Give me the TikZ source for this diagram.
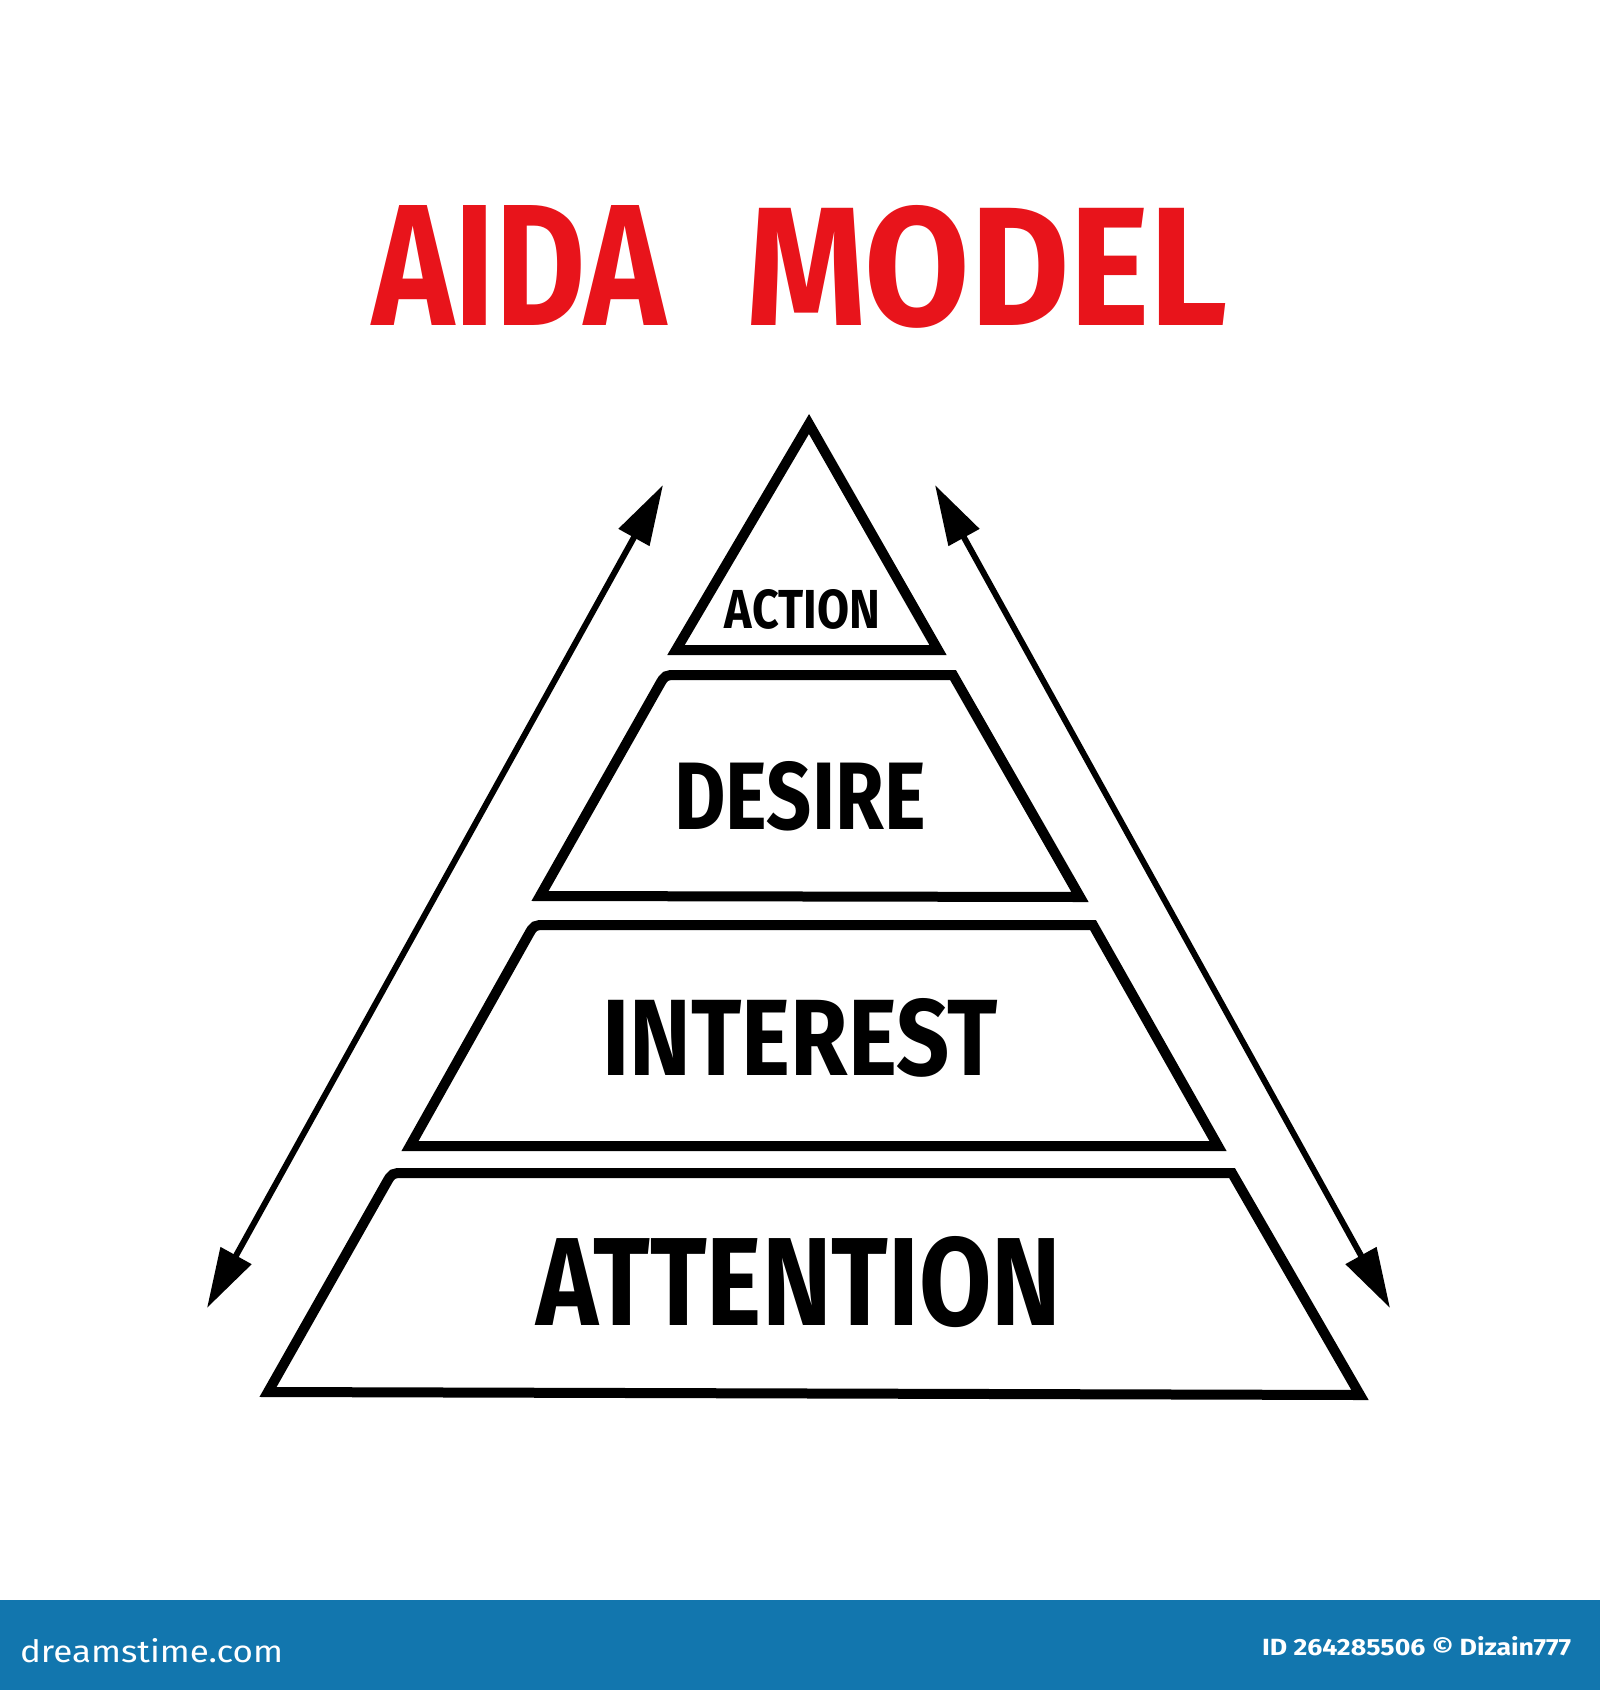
\documentclass[tikz,border=0pt]{standalone}
\usepackage{fontspec}
\setmainfont{Fira Sans}
\usepackage{graphicx}
\usetikzlibrary{arrows.meta,calc}
\definecolor{titlered}{HTML}{E8141B}
\definecolor{bannerblue}{HTML}{1276AE}
\tikzset{
  layer/.style={draw=black, line width=10pt, line join=miter, fill=white},
  lbl/.style={inner sep=0pt, outer sep=0pt, text=black, font=\bfseries},
  sidearrow/.style={line width=6pt, {Triangle[length=60pt,width=34pt]}-{Triangle[length=60pt,width=34pt]}},
  wmtext/.style={inner sep=0pt, outer sep=0pt, text=white, anchor=base west},
}
\newcommand{\fitbox}[3]{\resizebox{#1pt}{#2pt}{#3}}
\newcommand{\trap}[4]{% BL TL TR BR
  \draw[layer] (#1) -- ($(#2)!12pt!(#1)$) .. controls (#2) .. ($(#2)!12pt!(#3)$) -- (#3) -- (#4) -- cycle;}
\begin{document}
\begin{tikzpicture}[x=1pt,y=-1pt]
\useasboundingbox (0,0) rectangle (1600,1690);
\fill[white] (0,0) rectangle (1600,1690);

% title
\node[lbl, text=titlered] (title) at (800.5,267) {\fitbox{293}{120}{AIDA}\hspace{80pt}\fitbox{482}{120}{MODEL}};

% corner coordinates
\coordinate (acA) at (809,424);
\coordinate (acR) at (938,650);
\coordinate (acL) at (676,650);

\coordinate (deBL) at (540,896);
\coordinate (deTL) at (665,675);
\coordinate (deTR) at (953,675);
\coordinate (deBR) at (1080,897);

\coordinate (inBL) at (410,1146);
\coordinate (inTL) at (534,925);
\coordinate (inTR) at (1093,925);
\coordinate (inBR) at (1218,1146);

\coordinate (atBL) at (268,1392);
\coordinate (atTL) at (392,1173);
\coordinate (atTR) at (1232,1173);
\coordinate (atBR) at (1360,1395);

% layers
\draw[layer] (acA) -- (acR) -- (acL) -- cycle;
\trap{deBL}{deTL}{deTR}{deBR}
\trap{inBL}{inTL}{inTR}{inBR}
\trap{atBL}{atTL}{atTR}{atBR}

% labels
\node[lbl] (action) at (802.5,609.5) {\fitbox{155}{39}{ACTION}};
\node[lbl] (desire) at (800,796) {\fitbox{251}{68}{DESIRE}};
\node[lbl] (interest) at (800,1038) {\fitbox{395}{77}{INTEREST}};
\node[lbl] (attention) at (799,1282.5) {\fitbox{524}{89}{ATTENTION}};

% side arrows
\coordinate (lt) at (663,485);
\coordinate (lb) at (207,1308);
\coordinate (rt) at (935,485);
\coordinate (rb) at (1390,1308);
\draw[sidearrow] (lt) -- (lb);
\draw[sidearrow] (rt) -- (rb);

% banner
\fill[bannerblue] (0,1600) rectangle (1600,1690);
\node[wmtext] (site) at (20,1662) {\fitbox{263}{24}{dreamstime.com}};
\node[wmtext, font=\bfseries] (imgid) at (1262,1655) {\fitbox{309}{19}{ID 264285506 © Dizain777}};
\end{tikzpicture}
\end{document}
